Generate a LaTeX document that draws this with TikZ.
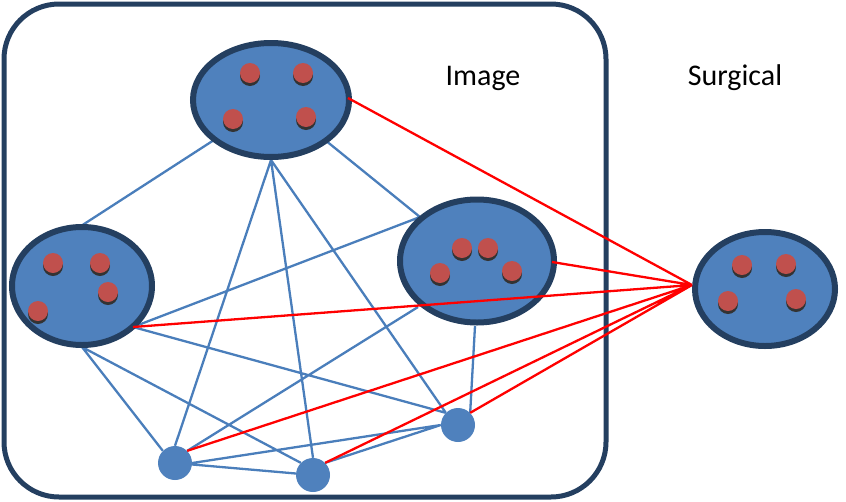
\documentclass[tikz,border=0pt]{standalone}
\usepackage{fontspec}
\setmainfont{Carlito}
\begin{document}
\begin{tikzpicture}[x=1pt,y=-1pt,
  ell/.style={ellipse,draw=navy,line width=6pt,fill=bluef,inner sep=0pt},
  sm/.style={circle,fill=bluef,minimum size=34pt,inner sep=0pt},
  bl/.style={draw=bluel,line width=2.3pt},
  rd/.style={draw=red,line width=2.3pt},
  lbl/.style={font=\fontsize{30}{36}\selectfont}]
\definecolor{navy}{HTML}{243F60}
\definecolor{bluef}{HTML}{4F81BD}
\definecolor{bluel}{HTML}{4A7EBB}
\definecolor{dot}{HTML}{C0504D}
\usetikzlibrary{shapes.geometric}
\useasboundingbox (0,0) rectangle (846,501);
\draw[navy,line width=5pt,rounded corners=55pt] (4,4) rectangle (606,497);
% connector anchors
\coordinate (tA) at (214,140); \coordinate (tB) at (271,160); \coordinate (tC) at (325,140); \coordinate (tR) at (348,98);
\coordinate (lT) at (81,226); \coordinate (lR) at (133,327); \coordinate (lB) at (82,347);
\coordinate (mL) at (420,217); \coordinate (mBL) at (418,307); \coordinate (mB) at (475,326); \coordinate (mR) at (552,262);
\coordinate (sL) at (692,285);
\node[sm] (b1) at (175,463) {};
\node[sm] (b2) at (313,475) {};
\node[sm] (b3) at (458,425) {};
\draw[bl] (tA)--(lT) (tC)--(mL) (mL)--(lR)
  (tB)--(b1.north) (tB)--(b2.north) (tB)--(b3.north west)
  (lB)--(b1.north west) (lB)--(b2.north west) (lR)--(b3.north west)
  (mBL)--(b1.north east) (mB)--(b3.north east)
  (b1.east)--(b3.west) (b1)--(b2) (b2.north east)--(b3.west);
\node[ell,minimum width=156pt,minimum height=114pt] (top) at (271,100) {};
\node[ell,minimum width=140pt,minimum height=118pt] (left) at (82,286) {};
\node[ell,minimum width=154pt,minimum height=123pt] (mid) at (477,261) {};
\node[ell,minimum width=140pt,minimum height=114pt] (surg) at (765,289) {};
\draw[rd] (sL)--(tR) (sL)--(mR) (sL)--(lR) (sL)--(b1.north east) (sL)--(b2.north east) (sL)--(b3.north east);
\foreach \p in {(250,73),(303,73),(233,119),(306,117),(53,263),(100,263),(108,292),(38,311),(462,248),(488,248),(440,273),(512,271),(742,265),(786,264),(728,301),(796,299)}{
  \fill[black!80,shift={(0,3)}] \p circle (10pt);
  \fill[dot] \p circle (10pt);
}
\node[lbl] (im) at (483,78) {Image};
\node[lbl] (su) at (735,78) {Surgical};
\end{tikzpicture}
\end{document}
